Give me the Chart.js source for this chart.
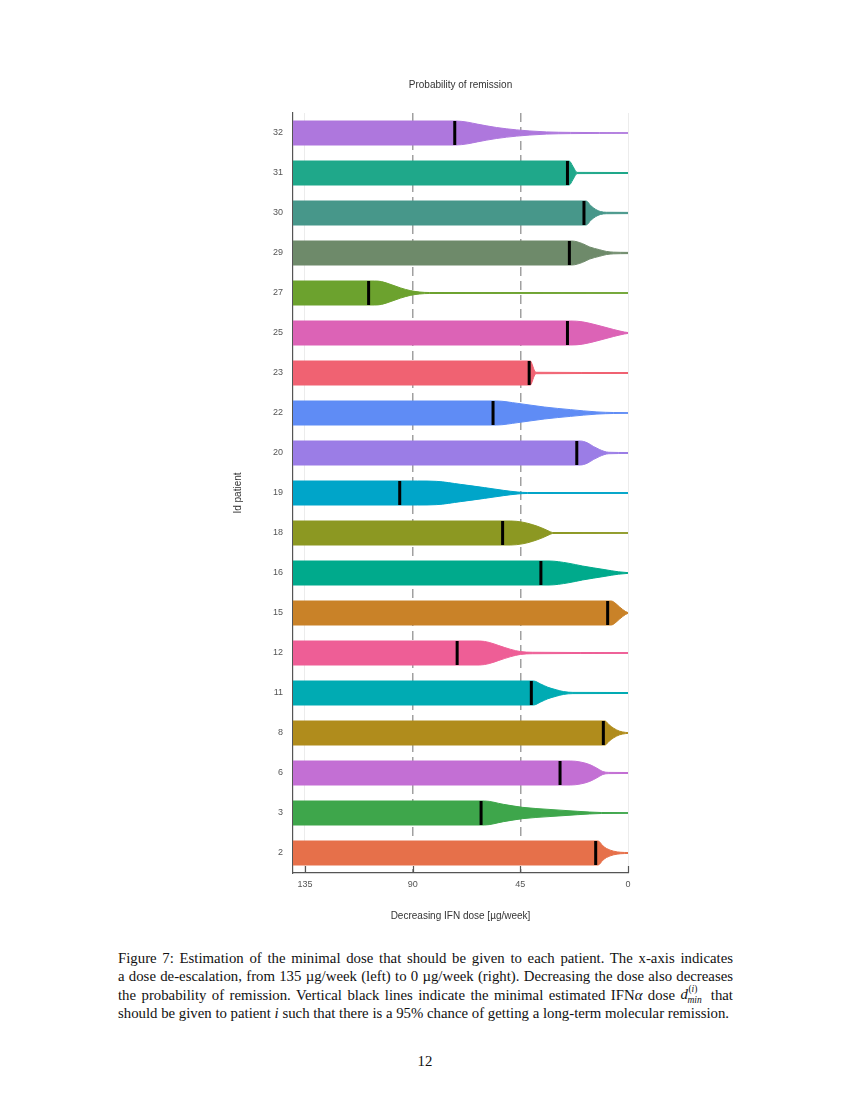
<!DOCTYPE html>
<html>
<head>
<meta charset="utf-8">
<title>Probability of remission</title>
<script src="https://cdn.jsdelivr.net/npm/chart.js@4.4.0/dist/chart.umd.min.js"></script>
<style>
    body {
        margin: 0;
        width: 850px;
        height: 1100px;
        position: relative;
        background: #ffffff;
    }
    #chartBox {
        position: absolute;
        left: 0;
        top: 0;
        width: 850px;
        height: 940px;
    }
    #caption {
        position: absolute;
        left: 118px;
        top: 949px;
        width: 615px;
        font-family: 'Liberation Serif', 'DejaVu Serif', serif;
        font-size: 14.8px;
        line-height: 18.3px;
        color: #111;
    }
    #caption .line {
        white-space: nowrap;
        text-align: justify;
        text-align-last: justify;
    }
    #caption .line.last {
        text-align-last: left;
    }
    .dmin {
        display: inline-block;
        position: relative;
        width: 25px;
        height: 10px;
    }
    .dmin i.d { position: absolute; left: 0; top: -5px; }
    .dmin .up { position: absolute; left: 8px; top: -10px; font-size: 9.5px; }
    .dmin .down { position: absolute; left: 7px; top: 1px; font-size: 9.5px; font-style: italic; }
    #pageNumber {
        position: absolute;
        left: 0;
        width: 850px;
        top: 1053px;
        text-align: center;
        font-family: 'Liberation Serif', 'DejaVu Serif', serif;
        font-size: 14.8px;
        color: #111;
    }
</style>
</head>
<body>
<div id="chartBox"><canvas id="chartRemission" width="850" height="940"></canvas></div>
<div id="caption">
    <div class="line">Figure 7: Estimation of the minimal dose that should be given to each patient. The x-axis indicates</div>
    <div class="line">a dose de-escalation, from 135 µg/week (left) to 0 µg/week (right). Decreasing the dose also decreases</div>
    <div class="line">the probability of remission. Vertical black lines indicate the minimal estimated IFN<i>α</i> dose <span class="dmin"><i class="d">d</i><span class="up">(<i>i</i>)</span><span class="down">min</span></span> that</div>
    <div class="line last">should be given to patient <i>i</i> such that there is a 95% chance of getting a long-term molecular remission.</div>
</div>
<div id="pageNumber">12</div>

<script>
/* ----------------------------------------------------------------------------
                                     DATA
---------------------------------------------------------------------------- */
// patients, top to bottom
const patientIds = ['32', '31', '30', '29', '27', '25', '23', '22', '20', '19',
                    '18', '16', '15', '12', '11', '8', '6', '3', '2'];

const patientColors = ['#ae77dd', '#1fa88a', '#47978a', '#6e8a6a', '#6ca22e',
                       '#dc63b6', '#f06272', '#5f8cf5', '#9b7de6', '#00a5c9',
                       '#8c9822', '#00aa8c', '#c98228', '#ee5e96', '#00abb3',
                       '#b08c1c', '#c36fd4', '#3ea64b', '#e6704a'];

// minimal dose d_min (vertical black line), µg/week
const minDose = [72.4, 25.3, 18.4, 24.5, 108.4, 25.3, 41.3, 56.4, 21.4, 95.4,
                 52.4, 36.4, 8.5, 71.4, 40.4, 10.3, 28.4, 61.4, 13.5];

// violin profile: [dose, relative half width] from 140 down to 0
const profiles = [
    [[140, 1], [72, 1], [67, 0.9], [63, 0.74], [55, 0.46], [46.5, 0.26], [41, 0.17], [34, 0.09], [24, 0.05], [0, 0.025]],
    [[140, 1], [24.6, 1], [23, 0.55], [21.3, 0.05], [0, 0.04]],
    [[140, 1], [17.5, 1], [15.5, 0.6], [13.5, 0.3], [11.5, 0.12], [9, 0.06], [0, 0.05]],
    [[140, 1], [23.5, 1], [19, 0.78], [16, 0.5], [12, 0.28], [9, 0.13], [6, 0.07], [0, 0.05]],
    [[140, 1], [106, 1], [103, 0.95], [99, 0.7], [95, 0.42], [91, 0.2], [87, 0.08], [83, 0.04], [0, 0.03]],
    [[140, 1], [24, 1], [19, 0.93], [13, 0.66], [6, 0.29], [1.5, 0.08], [0, 0.04]],
    [[140, 1], [40.8, 1], [40, 0.7], [39.5, 0.4], [38.5, 0.06], [0, 0.04]],
    [[140, 1], [55, 1], [46, 0.8], [35, 0.5], [24, 0.28], [13, 0.09], [6, 0.04], [0, 0.03]],
    [[140, 1], [20, 1], [17, 0.85], [14.5, 0.55], [12, 0.3], [10, 0.14], [8, 0.06], [0, 0.04]],
    [[140, 1], [88, 1], [80, 0.97], [70, 0.72], [60, 0.45], [52, 0.22], [46, 0.08], [42, 0.04], [0, 0.035]],
    [[140, 1], [49, 1], [44, 0.9], [40, 0.7], [36, 0.42], [33, 0.15], [31.5, 0.04], [0, 0.03]],
    [[140, 1], [33, 1], [25, 0.82], [19, 0.58], [10, 0.29], [4, 0.1], [0, 0.03]],
    [[140, 1], [7, 1], [5.5, 0.85], [3.5, 0.5], [1, 0.12], [0, 0.03]],
    [[140, 1], [62, 1], [58, 0.88], [54, 0.62], [49, 0.3], [45, 0.12], [40, 0.06], [0, 0.035]],
    [[140, 1], [39.5, 1], [36.5, 0.75], [33.5, 0.48], [30, 0.27], [27, 0.12], [23, 0.05], [0, 0.04]],
    [[140, 1], [9.6, 1], [8, 0.7], [6, 0.4], [3.5, 0.15], [1, 0.05], [0, 0.03]],
    [[140, 1], [24, 1], [20, 0.92], [16, 0.7], [13, 0.4], [10.5, 0.12], [8, 0.05], [0, 0.04]],
    [[140, 1], [60, 1], [52, 0.72], [44, 0.47], [33, 0.3], [21, 0.14], [11, 0.04], [0, 0.03]],
    [[140, 1], [12.5, 1], [10.5, 0.6], [9, 0.38], [6, 0.15], [3, 0.06], [0, 0.04]]
];

const xTickValues = [135, 90, 45, 0];
const dashedTicks = [90, 45];

/* ----------------------------------------------------------------------------
                                    MAIN
---------------------------------------------------------------------------- */
const ROW_HALF = 0.3;   // half height of a violin, in rows
const ctx_chart = document.getElementById('chartRemission').getContext('2d');

Chart.defaults.font.family = "'Liberation Sans', Arial, sans-serif";

var datasets = [];

// black d_min lines first so they are drawn on top
for (var i = 0; i < patientIds.length; i++) {
    datasets.push({
        data: [{x: minDose[i], y: i - ROW_HALF}, {x: minDose[i], y: i + ROW_HALF}],
        borderColor: '#000000',
        borderWidth: 3,
        pointRadius: 0,
        fill: false,
        order: 0
    });
}

// upper and lower edge of each violin, filled between
for (var i = 0; i < patientIds.length; i++) {
    var upper = profiles[i].map(function(p) { return {x: p[0], y: i - p[1] * ROW_HALF}; });
    var lower = profiles[i].map(function(p) { return {x: p[0], y: i + p[1] * ROW_HALF}; });
    datasets.push({
        data: upper,
        borderColor: patientColors[i],
        backgroundColor: patientColors[i],
        borderWidth: 1,
        pointRadius: 0,
        cubicInterpolationMode: 'monotone',
        fill: false,
        order: 1
    });
    datasets.push({
        data: lower,
        borderColor: patientColors[i],
        backgroundColor: patientColors[i],
        borderWidth: 1,
        pointRadius: 0,
        cubicInterpolationMode: 'monotone',
        fill: '-1',
        order: 1
    });
}

// short tick marks pointing up into the plot
const inwardTicks = {
    id: 'inwardTicks',
    afterDatasetsDraw(chart) {
        var xs = chart.scales.x;
        var bottom = chart.chartArea.bottom;
        var c = chart.ctx;
        c.save();
        c.strokeStyle = '#555555';
        c.lineWidth = 1.2;
        c.beginPath();
        xTickValues.forEach(function(v) {
            var px = Math.round(xs.getPixelForValue(v)) + 0.5;
            c.moveTo(px, bottom);
            c.lineTo(px, bottom - 7);
        });
        c.stroke();
        c.restore();
    }
};

const chartRemission = new Chart(ctx_chart, {
    type: 'line',
    data: {
        datasets: datasets
    },
    plugins: [inwardTicks],
    options: {
        responsive: false,
        animation: false,
        layout: {
            padding: {top: 70, left: 220, right: 222, bottom: 0}
        },
        plugins: {
            legend: {display: false},
            tooltip: {enabled: false},
            title: {
                display: true,
                text: 'Probability of remission',
                color: '#333333',
                fullSize: false,
                font: {size: 10, weight: 'normal'},
                padding: {top: 9, bottom: 22}
            }
        },
        scales: {
            x: {
                type: 'linear',
                min: 0,
                max: 140,
                reverse: true,
                afterBuildTicks: function(scale) {
                    scale.ticks = xTickValues.map(function(v) { return {value: v}; });
                },
                afterFit: function(scale) {
                    scale.height = 67;
                },
                grid: {
                    drawTicks: false,
                    color: function(ctx) {
                        if (ctx.tick && dashedTicks.includes(ctx.tick.value)) return '#a0a0a0';
                        return '#ececec';
                    },
                    lineWidth: function(ctx) {
                        if (ctx.tick && dashedTicks.includes(ctx.tick.value)) return 1.5;
                        return 1;
                    }
                },
                border: {
                    display: true,
                    color: '#555555',
                    width: 1.2,
                    dash: function(ctx) {
                        if (ctx.tick && dashedTicks.includes(ctx.tick.value)) return [9, 5];
                        return [];
                    }
                },
                ticks: {
                    color: '#555555',
                    font: {size: 9},
                    padding: 6
                },
                title: {
                    display: true,
                    text: 'Decreasing IFN dose [µg/week]',
                    color: '#333333',
                    font: {size: 10},
                    padding: {top: 0, bottom: 18}
                }
            },
            y: {
                type: 'linear',
                min: -0.5,
                max: 18.5,
                reverse: true,
                afterBuildTicks: function(scale) {
                    scale.ticks = patientIds.map(function(_, k) { return {value: k}; });
                },
                afterFit: function(scale) {
                    scale.width = 73;
                },
                grid: {
                    drawOnChartArea: false,
                    drawTicks: false
                },
                border: {
                    display: true,
                    color: '#555555',
                    width: 1.2
                },
                ticks: {
                    color: '#555555',
                    font: {size: 9},
                    padding: 10,
                    callback: function(value) {
                        return patientIds[value];
                    }
                },
                title: {
                    display: true,
                    text: 'Id patient',
                    color: '#333333',
                    font: {size: 10},
                    padding: {top: 12, bottom: 0}
                }
            }
        }
    }
});
</script>
</body>
</html>
